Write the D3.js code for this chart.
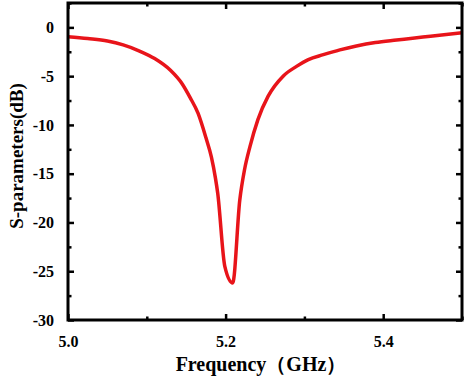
<!DOCTYPE html>
<html>
<head>
<meta charset="utf-8">
<script src="https://cdn.jsdelivr.net/npm/d3@7"></script>
<style>
  body { margin: 0; background: #fff; }
</style>
</head>
<body>
<svg width="474" height="379"></svg>
<script>
// S11 curve
var freq = [5.00, 5.025, 5.05, 5.07, 5.09, 5.11, 5.13, 5.145, 5.155, 5.165, 5.175, 5.182, 5.187, 5.190,
            5.199, 5.209, 5.218, 5.224, 5.231, 5.241, 5.254, 5.273, 5.29, 5.305, 5.324,
            5.345, 5.366, 5.39, 5.417, 5.44, 5.46, 5.48, 5.50];
var s11 = [-0.96, -1.15, -1.4, -1.8, -2.4, -3.2, -4.4, -5.8, -7.2, -8.8, -11.3, -13.3, -15.4, -17.0,
           -24.5, -26.2, -17.7, -14.6, -12.2, -9.45, -7.05, -5.0, -4.0, -3.3, -2.8,
           -2.3, -1.9, -1.55, -1.3, -1.1, -0.9, -0.72, -0.55];
var xTicks = [5.0, 5.2, 5.4];
var xMinor = [5.1, 5.3, 5.5];
var yTicks = [0, -5, -10, -15, -20, -25, -30];
var yMinor = [2.5, -2.5, -7.5, -12.5, -17.5, -22.5, -27.5];

var serif = "'Liberation Serif', 'Times New Roman', serif";

var svg = d3.select("svg"),
    margin = {left: 68, right: 12, top: 3, bottom: 59},
    width = 474 - margin.left - margin.right,
    height = 379 - margin.top - margin.bottom;

var x = d3.scaleLinear().domain([5.0, 5.5]).range([0, width]);
var y = d3.scaleLinear().domain([-30, 2.5]).range([height, 0]);

var g = svg.append("g").attr("transform", "translate(" + margin.left + "," + margin.top + ")");

var data = freq.map(function(f, i) { return {f: f, v: s11[i]}; });

var line = d3.line()
    .curve(d3.curveMonotoneX)
    .x(function(d) { return x(d.f); })
    .y(function(d) { return y(d.v); });

g.append("path")
    .datum(data)
    .attr("fill", "none")
    .attr("stroke", "#e8141a")
    .attr("stroke-width", 3.5)
    .attr("stroke-linejoin", "round")
    .attr("d", line);

// axes, ticks pointing inward
function styleAxis(sel) {
  sel.attr("font-family", serif).attr("font-weight", "bold").attr("font-size", 16);
  sel.select(".domain").remove();
  sel.selectAll(".tick line").attr("stroke", "#000").attr("stroke-width", 2.5);
  sel.selectAll(".tick text").attr("fill", "#000");
}

var fmtY = function(d) { return String(d); };

g.append("g").attr("transform", "translate(0," + height + ")")
    .call(d3.axisBottom(x).tickValues(xTicks).tickSize(-6).tickPadding(16).tickFormat(d3.format(".1f")))
    .call(styleAxis);
g.append("g").attr("transform", "translate(0," + height + ")")
    .call(d3.axisBottom(x).tickValues(xMinor).tickSize(-3.5).tickFormat(""))
    .call(styleAxis);
g.append("g")
    .call(d3.axisTop(x).tickValues(xTicks).tickSize(-6).tickFormat(""))
    .call(styleAxis);
g.append("g")
    .call(d3.axisTop(x).tickValues(xMinor).tickSize(-3.5).tickFormat(""))
    .call(styleAxis);

g.append("g")
    .call(d3.axisLeft(y).tickValues(yTicks).tickSize(-6).tickPadding(14).tickFormat(fmtY))
    .call(styleAxis);
g.append("g")
    .call(d3.axisLeft(y).tickValues(yMinor).tickSize(-3.5).tickFormat(""))
    .call(styleAxis);
g.append("g").attr("transform", "translate(" + width + ",0)")
    .call(d3.axisRight(y).tickValues(yTicks).tickSize(-6).tickFormat(""))
    .call(styleAxis);
g.append("g").attr("transform", "translate(" + width + ",0)")
    .call(d3.axisRight(y).tickValues(yMinor).tickSize(-3.5).tickFormat(""))
    .call(styleAxis);

g.append("rect")
    .attr("width", width).attr("height", height)
    .attr("fill", "none").attr("stroke", "#000").attr("stroke-width", 3);

// titles
svg.append("text")
    .attr("x", margin.left + width / 2 - 4)
    .attr("y", 371)
    .attr("text-anchor", "middle")
    .attr("font-family", serif)
    .attr("font-weight", "bold")
    .attr("font-size", 20)
    .attr("fill", "#000")
    .text("Frequency（GHz）");

svg.append("text")
    .attr("transform", "translate(23," + (margin.top + 153) + ") rotate(-90)")
    .attr("text-anchor", "middle")
    .attr("font-family", serif)
    .attr("font-weight", "bold")
    .attr("font-size", 19)
    .attr("fill", "#000")
    .text("S-parameters(dB)");
</script>
</body>
</html>
